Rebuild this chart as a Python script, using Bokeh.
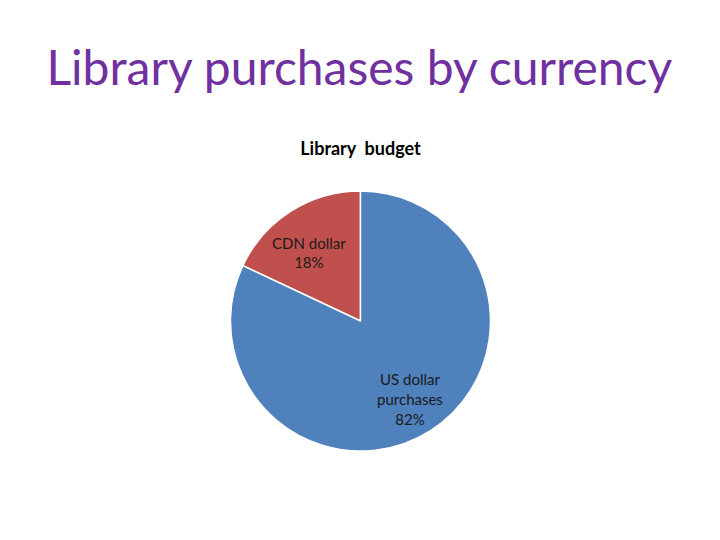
import numpy as np
from bokeh.plotting import figure
from bokeh.models import Range1d, ColumnDataSource
from bokeh.core.properties import value
from bokeh.embed import file_html
from bokeh.resources import INLINE

# ── Data ──────────────────────────────────────────────
labels = ["CDN dollar", "US dollar\npurchases"]
shares = [18, 82]
colors = ["#C0504D", "#4F81BD"]

TITLE = "Library purchases by currency"
SUBTITLE = "Library\u00a0 budget"

# ── Geometry (1 data unit = 1 screen pixel, y flipped to negative) ──
W, H = 704, 524
CX, CY, R = 360, -320.5, 130

frac = np.array(shares) / sum(shares)
ends = np.pi / 2 + 2 * np.pi * np.cumsum(frac)
starts = np.concatenate([[np.pi / 2], ends[:-1]])
mids = (starts + ends) / 2
label_r = np.array([0.66, 0.71]) * R

src = ColumnDataSource(dict(
    start=starts, end=ends, color=colors,
    lx=CX + label_r * np.cos(mids + np.array([0.08, 0.0])),
    ly=CY + label_r * np.sin(mids + np.array([0.08, 0.0])),
    text=[f"{l}\n{s}%" for l, s in zip(labels, shares)],
))

p = figure(
    width=W, height=H,
    x_range=Range1d(0, W), y_range=Range1d(-H, 0),
    output_backend="svg", toolbar_location=None,
    min_border=0, outline_line_color=None,
)
p.axis.visible = False
p.grid.visible = False

p.wedge(x=CX, y=CY, radius=R, radius_units="screen",
        start_angle="start", end_angle="end", fill_color="color",
        line_color="white", line_width=1.5, source=src)

p.text(x="lx", y="ly", text="text", source=src,
       text_font=value("Lato"), text_font_size="15px", text_color="#1a1a1a",
       text_align="center", text_baseline="middle", text_line_height=1.1)

p.text(x=[CX], y=[-66], text=[TITLE], text_font=value("Lato"),
       text_font_size="48px", text_color="#7030A0",
       text_align="center", text_baseline="middle")
p.text(x=[CX], y=[-147], text=[SUBTITLE], text_font=value("Lato"),
       text_font_size="18px", text_font_style="bold", text_color="#000000",
       text_align="center", text_baseline="middle")

open("out.html", "w").write(file_html(p, INLINE))
